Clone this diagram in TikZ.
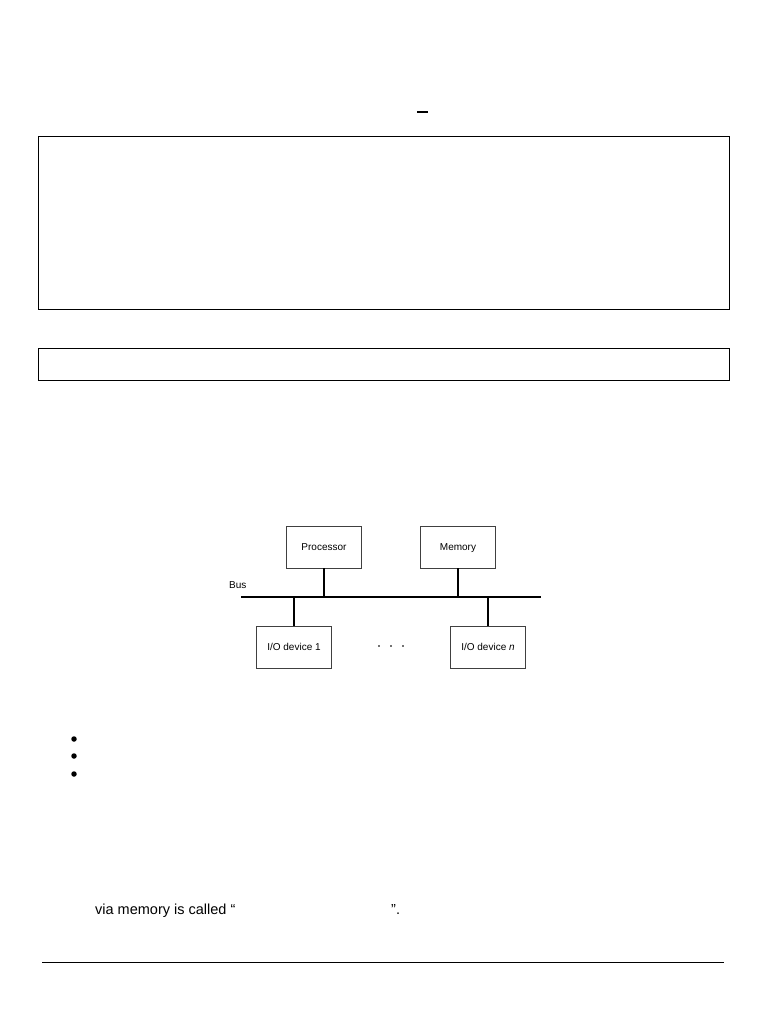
\documentclass[tikz,border=0pt]{standalone}
\usepackage{fontspec}
\setmainfont{Liberation Sans}
\begin{document}
\begin{tikzpicture}[x=1pt,y=-1pt,
  frame/.style={draw=black, line width=0.8pt},
  unit/.style={draw=black!75, line width=0.8pt, minimum width=75pt, minimum height=42pt, font=\fontsize{10}{11}\selectfont, inner sep=0pt, text height=8pt, text depth=0.5pt},
  wire/.style={line width=1.3pt, black},
  dotc/.style={rectangle, fill=black!55, inner sep=0pt, minimum size=2.5pt},
  bullet/.style={circle, fill=black, inner sep=0pt, minimum size=5.5pt}]
\useasboundingbox (0,0) rectangle (768,1024);
\fill[white] (0,0) rectangle (768,1024);
% title dash
\draw[line width=2pt] (417,112) coordinate (d1) -- (428,112) coordinate (d2);
% frames
\draw[frame] (38,136) rectangle (729,309);
\draw[frame] (38,348) rectangle (729,380);
% diagram
\node[unit] (proc) at (324,547) {Processor};
\node[unit] (mem) at (458,547) {Memory};
\node[unit] (io1) at (294,647) {I/O device 1};
\node[unit] (ion) at (488,647) {I/O device \textit{n}};
\coordinate (busL) at (241,597);
\coordinate (busR) at (541,597);
\draw[wire] (busL) -- (busR);
\node[font=\fontsize{10}{11}\selectfont, anchor=base west, inner sep=0pt] (buslabel) at (229,588) {Bus};
\draw[wire] (proc.south) -- (proc.south |- busL);
\draw[wire] (mem.south) -- (mem.south |- busL);
\draw[wire] (io1.north) -- (io1.north |- busL);
\draw[wire] (ion.north) -- (ion.north |- busL);
\node[dotc] (e1) at (379,646) {};
\node[dotc] (e2) at (391,646) {};
\node[dotc] (e3) at (403,646) {};
% bullets
\node[bullet] (b1) at (74,739) {};
\node[bullet] (b2) at (74,756) {};
\node[bullet] (b3) at (74,774) {};
% text line
\node[anchor=base west, inner sep=0pt, font=\fontsize{14.5}{16}\selectfont] (via) at (95,914) {via memory is called “};
\node[anchor=base west, inner sep=0pt, font=\fontsize{14.5}{16}\selectfont] (close) at (391,914) {”.};
% footer line
\draw[line width=0.8pt] (42,962) coordinate (f1) -- (724,962) coordinate (f2);
\end{tikzpicture}
\end{document}
